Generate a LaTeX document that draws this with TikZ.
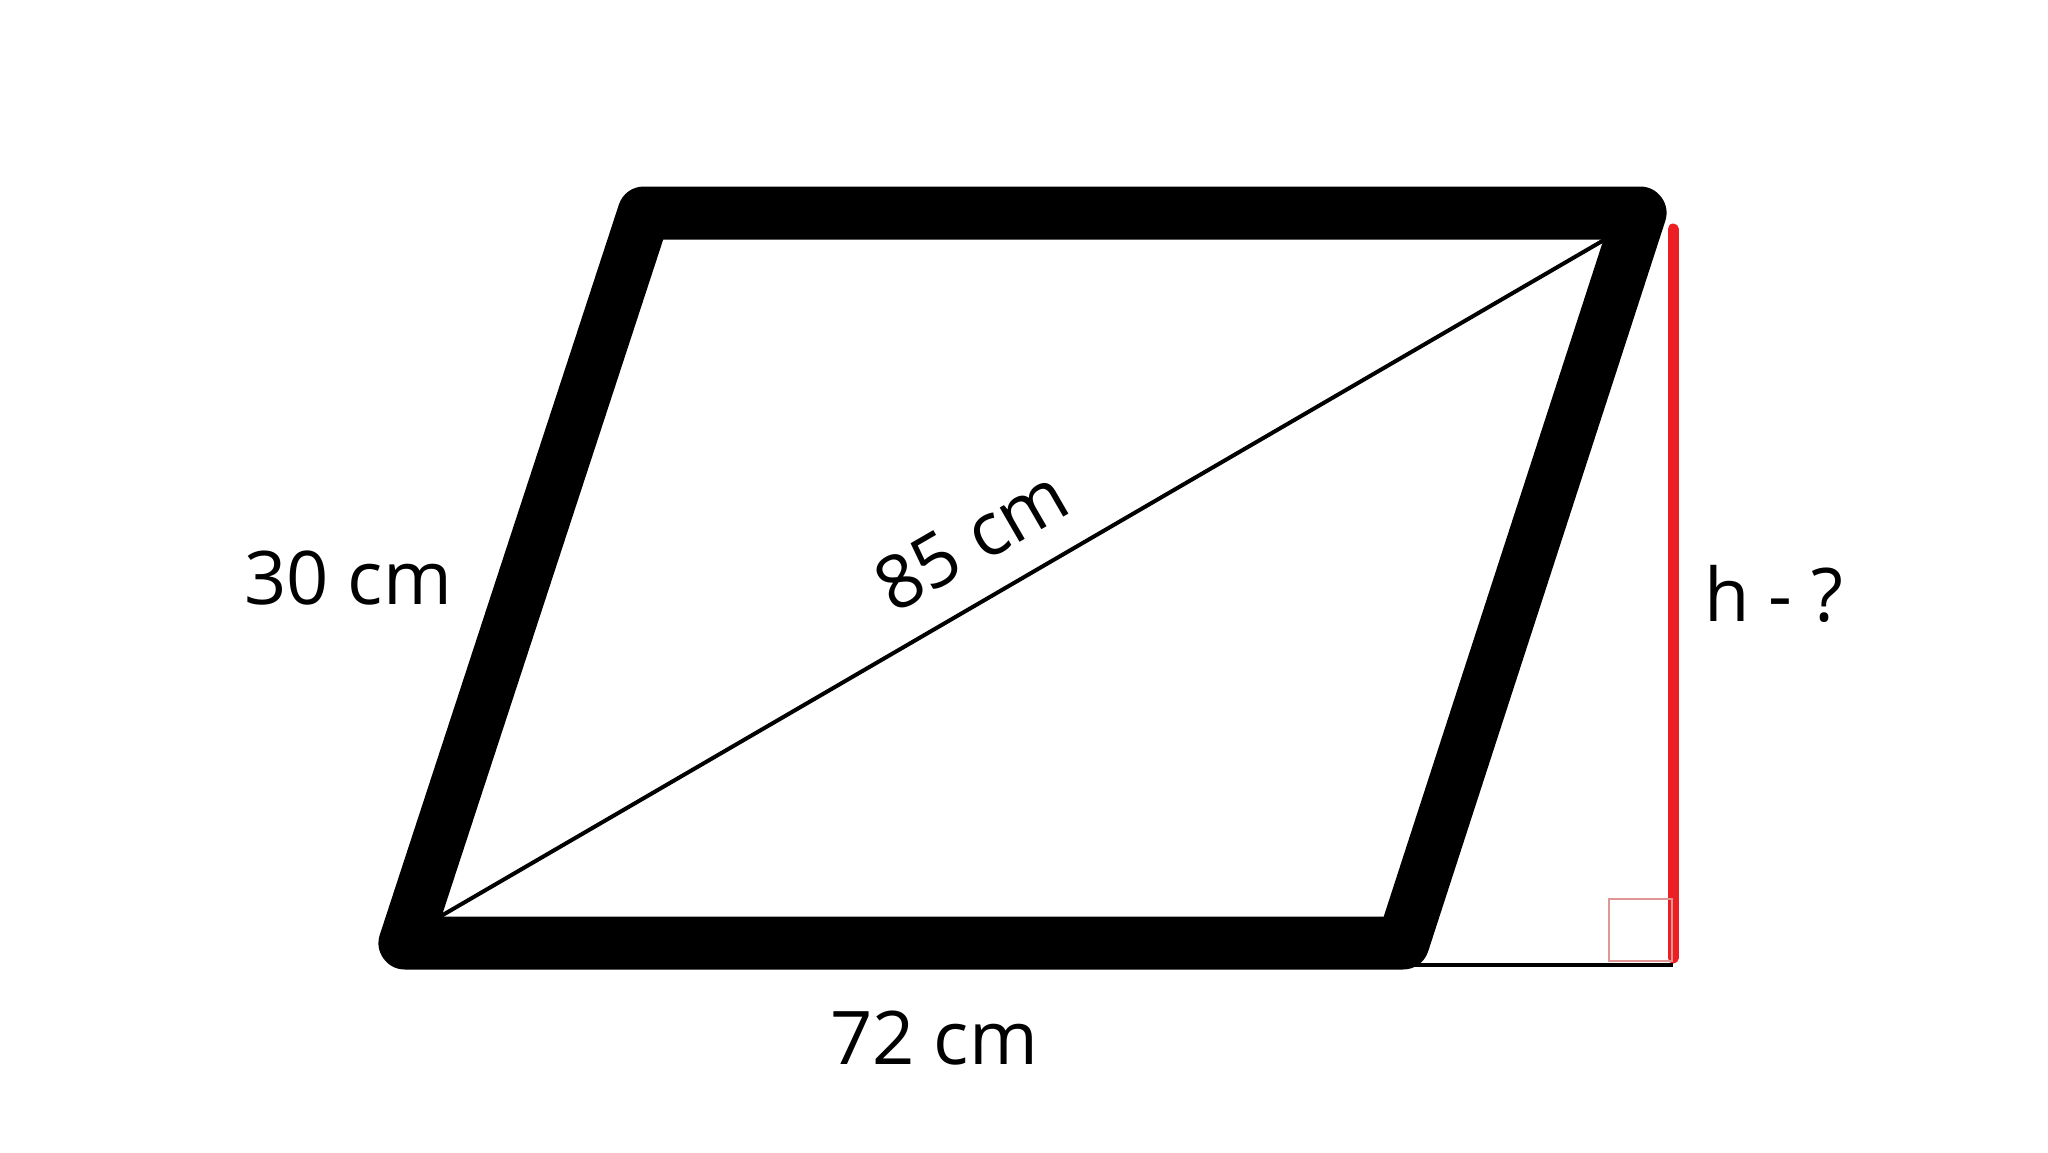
\documentclass[tikz,border=0pt]{standalone}
\usepackage{graphicx}
\usepackage{fontspec}
\setmainfont{Open Sans}
\definecolor{hred}{RGB}{236,32,36}
\definecolor{sqpink}{RGB}{225,150,150}
\newcommand{\biglbl}[1]{\scalebox{6.1667}{\fontsize{12}{14}\selectfont #1}}
\begin{document}
\begin{tikzpicture}[x=1pt,y=1pt,
  lbl/.style={inner sep=0pt},
  frame/.style={line width=53pt, line join=round},
  thin/.style={line width=4pt}]
\useasboundingbox[fill=white] (0,0) rectangle (2048,-1152);
\coordinate (TL) at (644,-213);
\coordinate (TR) at (1640,-213);
\coordinate (BR) at (1403,-943);
\coordinate (BL) at (405,-943);
\coordinate (iBL) at (441,-916);
\coordinate (iTR) at (1604,-240);
\coordinate (hTop) at (1673,-229);
\coordinate (hBot) at (1673,-958);
\coordinate (baseL) at (1415,-965);
\coordinate (baseR) at (1673,-965);
\coordinate (sqA) at (1609,-899);
\coordinate (sqB) at (1672,-961);
\draw[frame] (TL) -- (TR) -- (BR) -- (BL) -- cycle;
\draw[thin] (iBL) -- (iTR);
\draw[hred, line width=11pt, line cap=round] (hTop) -- (hBot);
\draw[thin] (baseL) -- (baseR);
\draw[sqpink, line width=2pt] (sqA) rectangle (sqB);
\node[lbl] (side) at (348,-578) {\biglbl{30 cm}};
\node[lbl] (base) at (934,-1038) {\biglbl{72 cm}};
\node[lbl] (height) at (1774,-594) {\biglbl{h - ?}};
\node[lbl, rotate=30] (diag) at (971,-540) {\biglbl{85 cm}};
\end{tikzpicture}
\end{document}
